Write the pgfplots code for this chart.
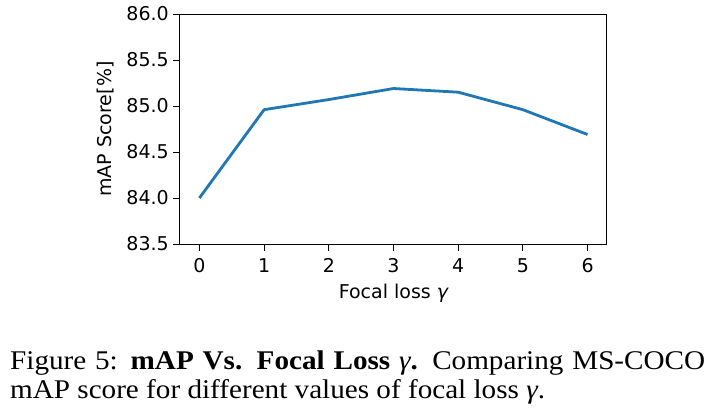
\documentclass[border=0pt]{standalone}
\usepackage{fontspec}
\setmainfont{DejaVu Sans}
\newfontfamily\capfont[FakeStretch=1.08]{Liberation Serif}
\usepackage{pgfplots}
\pgfplotsset{compat=1.18}
\definecolor{mplblue}{HTML}{1F77B4}
\begin{document}
\begin{tikzpicture}[x=1pt,y=1pt]
\useasboundingbox (-180,-169) rectangle (533,244);
\begin{axis}[
  at={(0,0)}, anchor=south west,
  scale only axis, width=427pt, height=230pt,
  xmin=-0.3, xmax=6.3, ymin=83.5, ymax=86.0,
  xtick={0,1,2,3,4,5,6},
  ytick={83.5,84.0,84.5,85.0,85.5,86.0},
  yticklabel style={/pgf/number format/fixed, /pgf/number format/fixed zerofill, /pgf/number format/precision=1},
  /pgf/number format/assume math mode=true,
  tick label style={font=\fontsize{19}{21}\selectfont},
  label style={font=\fontsize{19}{21}\selectfont},
  tick align=outside, tickpos=left,
  major tick length=7pt,
  every tick/.style={black, line width=1pt},
  axis line style={line width=1pt},
  xticklabel style={inner sep=4pt, yshift=-3pt},
  yticklabel style={inner sep=4pt},
  xlabel={Focal loss {\itshape γ}},
  ylabel={mAP Score[\%]},
  xlabel style={yshift=-4pt},
  ylabel style={yshift=5pt},
]
\addplot[mplblue, line width=2.8pt, line join=round] coordinates {
  (0,84.00) (1,84.96) (2,85.07) (3,85.19) (4,85.15) (5,84.96) (6,84.69)
};
\end{axis}
\node[anchor=base west, inner sep=0pt, text width=695pt, align=justify,
      font=\capfont\fontsize{27}{29}\selectfont]
  at (-170,-125)
  {Figure 5: \textbf{mAP Vs. Focal Loss {\mdseries\itshape γ}.} Comparing MS-COCO\linebreak
   mAP score for different values of focal loss \textit{γ}.};
\end{tikzpicture}
\end{document}
